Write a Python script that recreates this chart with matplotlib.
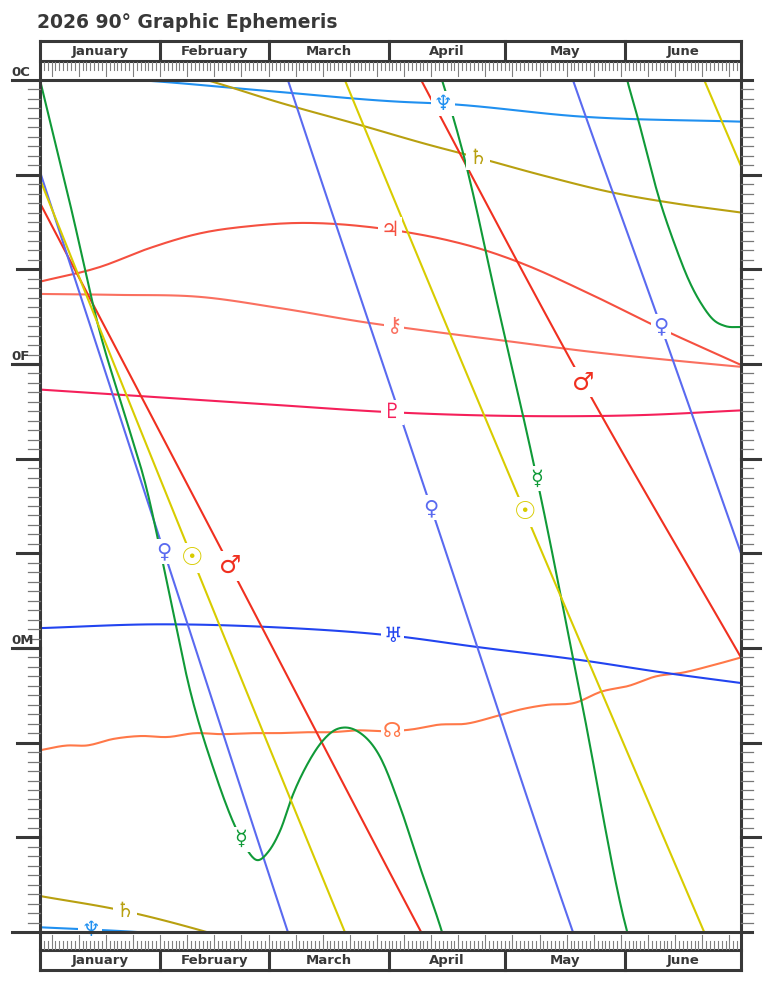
import numpy as np
import matplotlib
matplotlib.use("Agg")
import matplotlib.pyplot as plt

W, H = 768, 988
# ---------------- data (day of year from Jan 1, dial degrees unwrapped; 0 = 0 Cardinal) -------------
months = ["January", "February", "March", "April", "May", "June"]
month_starts = [0, 31, 59, 90, 120, 151, 181]
dial_labels = ["0C", "0F", "0M"]

sun_d = [0, 31, 59, 90, 120, 151, 181]
sun_v = [10.5, 42.1, 70.3, 101.2, 130.6, 160.4, 189.1]

mercury_d = [0, 8, 15.5, 22, 27.6, 33, 38.7, 45, 50, 53, 56, 59, 62, 65.3, 69, 73, 76, 78.7, 82, 87.8, 93,
             98, 103.8, 109.7, 118, 128.3, 140, 151.6, 154, 160, 164, 167.8, 171, 173.8, 177, 181]
mercury_v = [0, 13.5, 26.7, 35.5, 43.3, 53.5, 64.4, 73, 78.5, 81, 82.4, 81.5, 79.3, 75.5, 72.3, 69.8, 68.7, 68.4,
             68.8, 71.5, 76.8, 83, 90, 98.45, 113.5, 132.1, 156, 180, 183.5, 192.7, 197.5, 201.4, 203.8, 205.3,
             206.0, 206.1]

venus_d = [0, 32, 64, 101, 137.6, 160.3, 181]
venus_v = [9.7, 49.8, 90, 135.2, 180, 206, 230]

mars_d = [0, 49, 98.4, 140, 181]
mars_v = [13, 51.3, 90, 121.8, 151]

jupiter_d = [0, 15.5, 28, 41.3, 55, 67, 76, 84.4, 95, 105, 115, 124, 142, 160, 181]
jupiter_v = [21.3, 19.75, 17.8, 16.2, 15.4, 15.1, 15.2, 15.5, 16.1, 16.9, 18.0, 19.3, 22.6, 26.2, 30.1]

saturn_d = [0, 22, 43, 62, 82.6, 100, 113, 130, 148, 165, 181]
saturn_v = [86.2, 87.8, 90, 92.4, 94.75, 96.8, 98.2, 100.1, 101.9, 103.1, 104.0]

uranus_d = [0, 30, 60, 91, 113, 140, 161, 181]
uranus_v = [57.9, 57.5, 57.8, 58.7, 59.9, 61.3, 62.6, 63.7]

neptune_d = [0, 25, 60, 93, 104, 141, 181]
neptune_v = [89.5, 90, 91.2, 92.3, 92.5, 93.9, 94.4]

pluto_d = [0, 30, 60, 91, 125, 155, 181]
pluto_v = [32.7, 33.5, 34.3, 35.1, 35.5, 35.4, 34.9]

chiron_d = [0, 20, 41, 62, 84, 100, 121, 142, 163, 181]
chiron_v = [22.6, 22.7, 22.9, 24.1, 25.6, 26.5, 27.6, 28.7, 29.6, 30.3]

node_d = [0, 7, 12, 19, 26, 33, 40, 47, 54, 61, 68, 75, 82, 90, 96, 103, 110, 117, 124, 131, 138, 145, 152,
          159, 166, 173, 181]
node_v = [70.8, 70.3, 70.3, 69.6, 69.3, 69.4, 69.0, 69.1, 69.0, 69.0, 68.9, 68.9, 68.7, 68.8, 68.6, 68.1, 68.0,
          67.3, 66.5, 66.0, 65.8, 64.6, 64.0, 63.0, 62.6, 61.9, 61.0]

bodies = [
    # name, days, values, colour, glyph, label days
    ("Node", node_d, node_v, "#ff7848", "\u260A", [91]),
    ("Pluto", pluto_d, pluto_v, "#f5205a", "\u2647", [91]),
    ("Chiron", chiron_d, chiron_v, "#fa7060", "\u26B7", [91.5]),
    ("Neptune", neptune_d, neptune_v, "#2090f0", "\u2646", [13, 104]),
    ("Uranus", uranus_d, uranus_v, "#2244f0", "\u2645", [91]),
    ("Saturn", saturn_d, saturn_v, "#b8a010", "\u2644", [22, 113]),
    ("Jupiter", jupiter_d, jupiter_v, "#f55040", "\u2643", [90.4]),
    ("Mars", mars_d, mars_v, "#f03020", "\u2642", [49, 140.2]),
    ("Venus", venus_d, venus_v, "#5a6af0", "\u2640", [32, 101, 160.3]),
    ("Mercury", mercury_d, mercury_v, "#109a38", "\u263F", [51.9, 128.3]),
    ("Sun", sun_d, sun_v, "#d8cc00", "\u2609", [39.3, 125.2]),
]


def smooth(d, v, n=12):
    """Cubic Hermite rendering of the line through the data points."""
    d = np.asarray(d, float)
    v = np.asarray(v, float)
    m = np.gradient(v, d)
    xs, ys = [], []
    for i in range(len(d) - 1):
        h = d[i + 1] - d[i]
        t = np.linspace(0, 1, n, endpoint=False)
        h00 = 2 * t**3 - 3 * t**2 + 1
        h10 = t**3 - 2 * t**2 + t
        h01 = -2 * t**3 + 3 * t**2
        h11 = t**3 - t**2
        xs.append(d[i] + t * h)
        ys.append(h00 * v[i] + h10 * h * m[i] + h01 * v[i + 1] + h11 * h * m[i + 1])
    xs.append([d[-1]])
    ys.append([v[-1]])
    return np.concatenate(xs), np.concatenate(ys)


fig = plt.figure(figsize=(W / 100, H / 100), dpi=100)
dark = "#383838"

def rect(x0, y0, x1, y1):
    return [x0 / W, 1 - y1 / H, (x1 - x0) / W, (y1 - y0) / H]

ax = fig.add_axes(rect(40, 80, 741, 932))
ax.set_xlim(0, 181)
ax.set_ylim(90, 0)
ax.axis("off")

for name, d, v, col, glyph, ldays in bodies:
    sd, sv = smooth(d, v)
    kmax = int(np.ceil(sv.max() / 90)) + 1
    for k in range(-1, kmax):
        ax.plot(sd, sv - 90 * k, color=col, lw=1.5, solid_capstyle="butt", zorder=2)
    for ld in ldays:
        yy = np.interp(ld, sd, sv) % 90
        fs = 18 if name in ("Mars", "Sun") else 15
        ax.text(ld, yy, glyph, color=col, fontsize=fs, ha="center", va="center",
                family=["DejaVu Sans"], fontweight="bold", zorder=5,
                bbox=dict(boxstyle="square,pad=0.12", fc="white", ec="none"))

ov = fig.add_axes([0, 0, 1, 1], zorder=10)
ov.set_xlim(0, W)
ov.set_ylim(H, 0)
ov.axis("off")
ov.patch.set_alpha(0)

X0, X1 = 40, 741
def dx(day):
    return X0 + day * (X1 - X0) / 181.0
def dy(deg):
    return 80 + deg * (932 - 80) / 90.0

lw_frame = 2.2
ov.plot([X0, X0], [41, 970], color=dark, lw=lw_frame)
ov.plot([X1, X1], [41, 970], color=dark, lw=lw_frame)
for yy, xa, xb in [(41, X0, X1), (61, X0, X1), (80, 12, 752), (932, 12, 752), (950, X0, X1), (970, X0, X1)]:
    ov.plot([xa, xb], [yy, yy], color=dark, lw=lw_frame)

for i, m in enumerate(months):
    a, b = dx(month_starts[i]), dx(month_starts[i + 1])
    if i > 0:
        ov.plot([a, a], [41, 61], color=dark, lw=lw_frame)
        ov.plot([a, a], [950, 970], color=dark, lw=lw_frame)
    for yc in (51.5, 960.5):
        ov.text((a + b) / 2, yc, m, ha="center", va="center", fontsize=9.5,
                fontweight="bold", color=dark)

for day in range(1, 181):
    x = dx(day)
    sunday = (day - 3) % 7 == 0
    ln = 14 if sunday else 8
    ov.plot([x, x], [62, 62 + ln], color="#808080", lw=0.8)
    ov.plot([x, x], [949, 949 - ln], color="#808080", lw=0.8)

for deg in range(0, 91):
    y = dy(deg)
    if deg % 10 == 0:
        if deg not in (0, 90):
            ov.plot([17, X0], [y, y], color=dark, lw=2.2)
            ov.plot([X1, 760], [y, y], color=dark, lw=2.2)
    else:
        ov.plot([28, X0], [y, y], color="#777777", lw=0.9)
        ov.plot([X1, 753], [y, y], color="#777777", lw=0.9)
for i, lab in enumerate(dial_labels):
    y = dy(30 * i)
    if i > 0:
        ov.plot([12, X0], [y, y], color=dark, lw=2.2)
    ov.text(11, y - 1, lab, ha="left", va="bottom", fontsize=9.5, fontweight="bold", color=dark)

ov.text(37, 22, "2026 90\u00b0 Graphic Ephemeris", ha="left", va="center", fontsize=13.5,
        fontweight="bold", color=dark)

fig.savefig("out.png", dpi=100, facecolor="white")
